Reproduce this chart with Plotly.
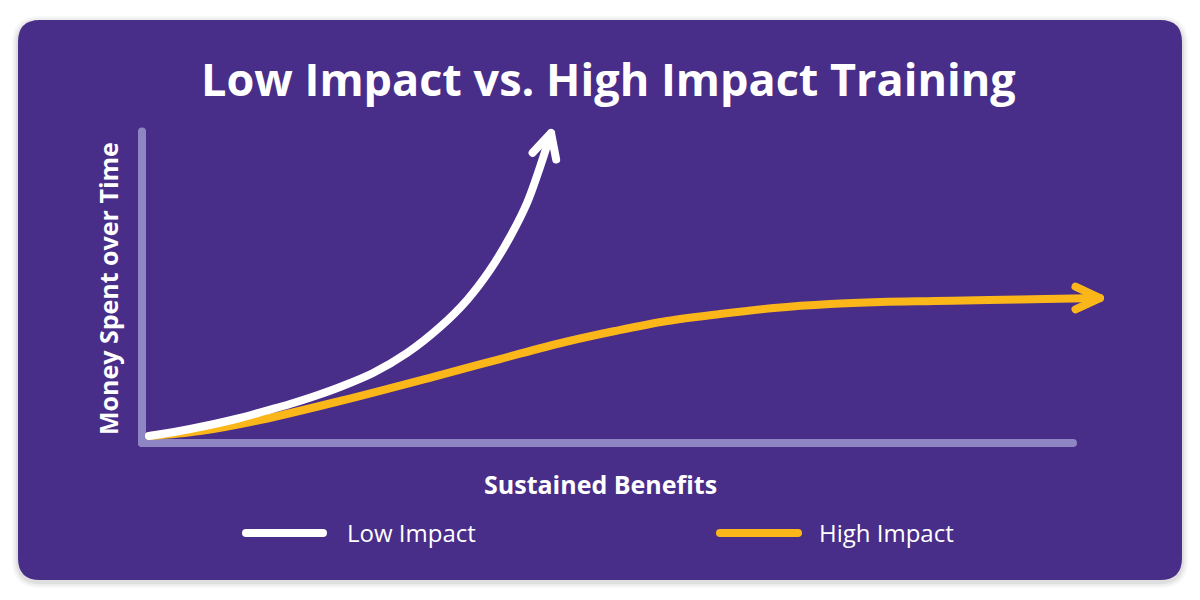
import math
import plotly.graph_objects as go

# ---------------- data ----------------
TITLE = "Low Impact vs. High Impact Training"
X_TITLE = "Sustained Benefits"
Y_TITLE = "Money Spent over Time"

SERIES_NAMES = ["Low Impact", "High Impact"]

low_x = [0, 4.44, 9.85, 12.55, 15.26, 17.97, 20.67, 24.24, 27.92, 31.49, 34.42, 36.90, 39.07, 40.91, 42.10, 43.51]
low_y = [0, 2.31, 5.94, 8.25, 10.56, 13.20, 16.17, 20.79, 27.39, 35.97, 44.88, 54.79, 65.68, 76.90, 86.80, 100.0]

high_x = [0, 5.52, 11.99, 20.67, 31.49, 37.99, 45.02, 50.43, 56.06, 61.80, 67.64, 73.70, 79.22, 85.06, 90.91, 96.97, 102.92]
high_y = [0, 1.65, 5.28, 11.55, 20.13, 25.41, 31.02, 34.65, 37.95, 40.26, 42.24, 43.56, 44.22, 44.55, 44.88, 45.21, 45.54]

# ---------------- style / layout ----------------
W, H = 1200, 600
ORIGIN_PX = (149, 436)      # pixel of data (0,0)
SX, SY = 9.24, 3.03         # pixels per data unit
BG = "#482D89"
AXIS_C = "#8E86C3"
WHITE = "#FFFFFF"
GOLD = "#FBB719"
LW = 8
FONT = "Open Sans"

x_range = [-ORIGIN_PX[0] / SX, (W - ORIGIN_PX[0]) / SX]
y_range = [-(H - ORIGIN_PX[1]) / SY, ORIGIN_PX[1] / SY]


def px_to_data(dx_px, dy_px):
    """convert a pixel offset (screen y down) into a data offset"""
    return dx_px / SX, -dy_px / SY


def arrow_head(xs, ys, heading_deg, length=27, spread=30):
    """wing points around the last data point; heading in screen degrees"""
    tx, ty = xs[-1], ys[-1]
    h = math.radians(heading_deg)
    bx, by = -math.cos(h), -math.sin(h)  # back direction on screen
    out_x, out_y = [], []
    for s in (spread, None, -spread):
        if s is None:
            out_x.append(tx)
            out_y.append(ty)
            continue
        a = math.radians(s)
        rx = bx * math.cos(a) - by * math.sin(a)
        ry = bx * math.sin(a) + by * math.cos(a)
        ddx, ddy = px_to_data(rx * length, ry * length)
        out_x.append(tx + ddx)
        out_y.append(ty + ddy)
    return out_x, out_y


def paper(px, py):
    return px / W, 1 - py / H


def rounded_rect(x0, y0, x1, y1, r):
    def P(x, y):
        a, b = paper(x, y)
        return f"{a:.5f},{b:.5f}"
    return (f"M {P(x0 + r, y0)} L {P(x1 - r, y0)} Q {P(x1, y0)} {P(x1, y0 + r)} "
            f"L {P(x1, y1 - r)} Q {P(x1, y1)} {P(x1 - r, y1)} "
            f"L {P(x0 + r, y1)} Q {P(x0, y1)} {P(x0, y1 - r)} "
            f"L {P(x0, y0 + r)} Q {P(x0, y0)} {P(x0 + r, y0)} Z")


fig = go.Figure()

# curves (gold beneath white)
fig.add_trace(go.Scatter(x=high_x, y=high_y, mode="lines", name=SERIES_NAMES[1],
                         line=dict(color=GOLD, width=LW, shape="spline", smoothing=1.0),
                         hoverinfo="skip", showlegend=False))
fig.add_trace(go.Scatter(x=low_x, y=low_y, mode="lines", name=SERIES_NAMES[0],
                         line=dict(color=WHITE, width=LW, shape="spline", smoothing=1.0),
                         hoverinfo="skip", showlegend=False))

# arrow heads
ax_, ay_ = arrow_head(low_x, low_y, heading_deg=-74, length=27, spread=27)
fig.add_trace(go.Scatter(x=ax_, y=ay_, mode="lines", line=dict(color=WHITE, width=LW),
                         hoverinfo="skip", showlegend=False))
bx_, by_ = arrow_head(high_x, high_y, heading_deg=0, length=27, spread=25)
fig.add_trace(go.Scatter(x=bx_, y=by_, mode="lines", line=dict(color=GOLD, width=LW),
                         hoverinfo="skip", showlegend=False))

shapes = []
# soft shadow + card
for grow, op in ((6, 0.03), (4, 0.04), (2, 0.06)):
    shapes.append(dict(type="path", xref="paper", yref="paper", layer="below",
                       path=rounded_rect(18 - grow, 20 - grow + 2, 1182 + grow, 580 + grow + 2, 22 + grow),
                       fillcolor=f"rgba(0,0,0,{op})", line=dict(width=0)))
shapes.append(dict(type="path", xref="paper", yref="paper", layer="below",
                   path=rounded_rect(18, 20, 1182, 580, 22),
                   fillcolor=BG, line=dict(width=0)))

# axis lines
ox, oy = px_to_data(-7, 7)
shapes.append(dict(type="line", xref="x", yref="y", layer="below",
                   x0=ox, y0=oy, x1=ox, y1=100.5, line=dict(color=AXIS_C, width=LW)))
shapes.append(dict(type="line", xref="x", yref="y", layer="below",
                   x0=ox, y0=oy, x1=100, y1=oy, line=dict(color=AXIS_C, width=LW)))

# legend (manual)
annotations = []
legend_items = [(SERIES_NAMES[0], WHITE, 246, 323, 345),
                (SERIES_NAMES[1], GOLD, 720, 798, 817)]
for name, col, lx0, lx1, tx in legend_items:
    a0 = paper(lx0, 533)
    a1 = paper(lx1, 533)
    shapes.append(dict(type="line", xref="paper", yref="paper",
                       x0=a0[0], y0=a0[1], x1=a1[0], y1=a1[1],
                       line=dict(color=col, width=LW)))
    tp = paper(tx, 532)
    annotations.append(dict(xref="paper", yref="paper", x=tp[0], y=tp[1],
                            xanchor="left", yanchor="middle", showarrow=False,
                            text=name, font=dict(family=FONT, size=24, color=WHITE)))

# axis titles
p = paper(600, 484)
annotations.append(dict(xref="paper", yref="paper", x=p[0], y=p[1], showarrow=False,
                        xanchor="center", yanchor="middle", text=f"<b>{X_TITLE}</b>",
                        font=dict(family=FONT, size=25, color=WHITE)))
p = paper(108, 289)
annotations.append(dict(xref="paper", yref="paper", x=p[0], y=p[1], showarrow=False,
                        xanchor="center", yanchor="middle", textangle=-90,
                        text=f"<b>{Y_TITLE}</b>",
                        font=dict(family=FONT, size=25, color=WHITE)))
# title
p = paper(608, 79)
annotations.append(dict(xref="paper", yref="paper", x=p[0], y=p[1], showarrow=False,
                        xanchor="center", yanchor="middle", text=f"<b>{TITLE}</b>",
                        font=dict(family=FONT, size=45, color=WHITE)))

fig.update_layout(
    width=W, height=H,
    margin=dict(l=0, r=0, t=0, b=0),
    paper_bgcolor="white", plot_bgcolor="rgba(0,0,0,0)",
    xaxis=dict(range=x_range, visible=False, fixedrange=True),
    yaxis=dict(range=y_range, visible=False, fixedrange=True),
    shapes=shapes, annotations=annotations,
    showlegend=False, hovermode=False,
)

post = """
document.body.style.margin = '0';
document.body.style.padding = '0';
var gd = document.getElementById('{plot_id}');
function rc(){
  gd.querySelectorAll('path.js-line, .shapelayer path').forEach(function(p){
    p.style.strokeLinecap='round'; p.style.strokeLinejoin='round';
  });
}
rc();
if (gd.on) { gd.on('plotly_afterplot', rc); }
"""

fig.write_html("out.html", config={"displayModeBar": False, "staticPlot": True},
               post_script=post)
